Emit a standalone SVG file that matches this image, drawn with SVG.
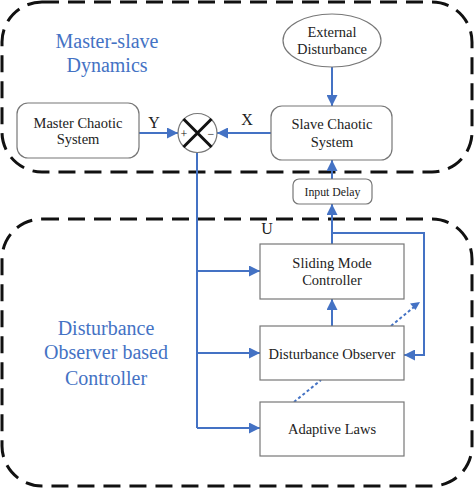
<svg xmlns="http://www.w3.org/2000/svg" width="474" height="489" viewBox="0 0 474 489" font-family="Liberation Serif, Tinos, DejaVu Serif, serif">
<defs>
<marker id="ah" viewBox="0 0 10 10" refX="10" refY="5" markerWidth="11" markerHeight="11" markerUnits="userSpaceOnUse" orient="auto">
<path d="M0,0 L10,5 L0,10 Z" fill="#4472C4"/>
</marker>
</defs>
<style>
text{font-family:"Liberation Serif",Tinos,"DejaVu Serif",serif}
.region{fill:none;stroke:#111;stroke-width:3;stroke-dasharray:17 9}
.box{fill:#fff;stroke:#777;stroke-width:1.2}
.t{font-size:14.5px;fill:#222;text-anchor:middle}
.lbl{font-size:20px;fill:#4472C4;text-anchor:middle}
.w{fill:none;stroke:#4472C4;stroke-width:2}
.a{fill:none;stroke:#4472C4;stroke-width:2;marker-end:url(#ah)}
.d{fill:none;stroke:#4472C4;stroke-width:2;stroke-dasharray:3 2.5}
</style>
<rect fill="#fff" width="474" height="489"/>
<g id="region-master-slave">
<rect class="region" x="2" y="2" width="470" height="170" rx="40"/>
<text class="lbl" x="107" y="48">Master-slave</text>
<text class="lbl" x="107" y="72">Dynamics</text>
</g>
<g id="region-controller">
<rect class="region" x="2" y="219" width="470" height="267" rx="40"/>
<text class="lbl" x="106" y="335">Disturbance</text>
<text class="lbl" x="106" y="359">Observer based</text>
<text class="lbl" x="106" y="385">Controller</text>
</g>
<g id="connectors">
<path class="a" d="M139,133 H178"/>
<path class="a" d="M271,133 H217"/>
<path class="a" d="M332,67 V106"/>
<path class="a" d="M332,179 V160"/>
<path class="a" d="M332,244 V204"/>
<path class="a" d="M332,326 V299"/>
<path class="a" d="M332,233 H424 V355 H404"/>
<path class="w" d="M197,153 V428"/>
<path class="a" d="M197,271 H260"/>
<path class="a" d="M197,353 H260"/>
<path class="a" d="M197,428 H260"/>
<path class="d" d="M391,326 L414,307"/>
<path d="M420,302 L410,303.5 L415.5,310 Z" fill="#4472C4"/>
<path class="d" d="M294,402 L321,380"/>
<text class="t" x="154" y="128" style="font-size:16px">Y</text>
<text class="t" x="247" y="125" style="font-size:16px">X</text>
<text class="t" x="267" y="234" style="font-size:16px">U</text>
</g>
<g id="master">
<rect class="box" x="17" y="103" width="122" height="55" rx="11"/>
<text class="t" x="78" y="128">Master Chaotic</text>
<text class="t" x="78" y="144">System</text>
</g>
<g id="sum">
<circle cx="197.5" cy="133" r="19.5" fill="#fff" stroke="#777" stroke-width="1.2"/>
<path d="M183.5,119 L211.5,147 M211.5,119 L183.5,147" stroke="#111" stroke-width="3"/>
<text x="184" y="138" style="font-size:12px;fill:#111;text-anchor:middle">+</text>
<text x="211" y="138" style="font-size:12px;fill:#111;text-anchor:middle">−</text>
</g>
<g id="slave">
<rect class="box" x="271" y="106" width="121" height="54" rx="11"/>
<text class="t" x="332" y="129">Slave Chaotic</text>
<text class="t" x="332" y="147">System</text>
</g>
<g id="external">
<ellipse class="box" cx="332" cy="40.5" rx="49" ry="26.5"/>
<text class="t" x="332" y="37">External</text>
<text class="t" x="332" y="54">Disturbance</text>
</g>
<g id="delay">
<rect class="box" x="293" y="179" width="79" height="25" rx="6"/>
<text class="t" x="332.5" y="196" style="font-size:11.8px">Input Delay</text>
</g>
<g id="smc">
<rect class="box" x="260" y="244" width="144" height="55"/>
<text class="t" x="332" y="268">Sliding Mode</text>
<text class="t" x="332" y="285">Controller</text>
</g>
<g id="observer">
<rect class="box" x="260" y="326" width="144" height="54"/>
<text class="t" x="332" y="359">Disturbance Observer</text>
</g>
<g id="adaptive">
<rect class="box" x="260" y="402" width="144" height="54"/>
<text class="t" x="332" y="434">Adaptive Laws</text>
</g>
</svg>
